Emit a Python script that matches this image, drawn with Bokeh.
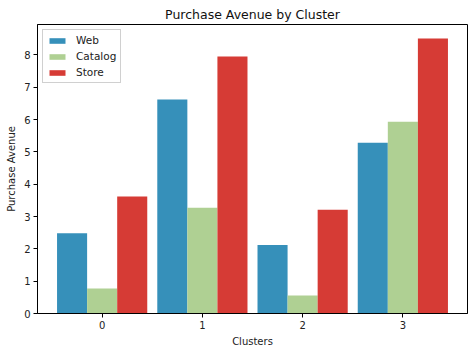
from bokeh.plotting import figure
from bokeh.models import ColumnDataSource, Range1d, FixedTicker, Legend, LegendItem
from bokeh.transform import dodge
from bokeh.embed import file_html
from bokeh.resources import INLINE

clusters = [0, 1, 2, 3]
web = [2.48, 6.62, 2.12, 5.28]
catalog = [0.77, 3.27, 0.56, 5.93]
store = [3.62, 7.95, 3.21, 8.51]
series_names = ["Web", "Catalog", "Store"]
colors = ["#3690BA", "#AFD093", "#D63B35"]

src = ColumnDataSource(dict(cluster=clusters, Web=web, Catalog=catalog, Store=store))

FONT = "DejaVu Sans"
p = figure(width=474, height=353, output_backend="svg", toolbar_location=None,
           x_range=Range1d(-0.645, 3.645), y_range=Range1d(0, 8.94),
           title="Purchase Avenue by Cluster",
           min_border_left=37, min_border_right=7, min_border_top=24, min_border_bottom=40)

renderers = []
offsets = [-0.3, 0.0, 0.3]
for name, col, off in zip(series_names, colors, offsets):
    r = p.vbar(x=dodge("cluster", off), top=name, width=0.3, source=src,
               fill_color=col, line_color=None)
    renderers.append(r)

legend = Legend(items=[LegendItem(label=n, renderers=[r]) for n, r in zip(series_names, renderers)],
                location="top_left")
legend.label_text_font = FONT
legend.label_text_font_size = "10.5px"
legend.label_text_color = "#222222"
legend.border_line_color = "#d0d0d0"
legend.border_line_alpha = 1
legend.background_fill_alpha = 0.9
legend.glyph_width = 20
legend.glyph_height = 7
legend.label_height = 12
legend.spacing = 4
legend.padding = 4
legend.margin = 5
legend.label_standoff = 9
p.add_layout(legend)

p.title.text_font = FONT
p.title.text_font_size = "12.5px"
p.title.text_font_style = "normal"
p.title.align = "center"
p.title.text_color = "#111111"
p.title.standoff = 6

p.xgrid.visible = False
p.ygrid.visible = False
p.outline_line_color = "black"
p.outline_line_width = 1
p.outline_line_alpha = 1

p.xaxis.ticker = FixedTicker(ticks=clusters)
p.yaxis.ticker = FixedTicker(ticks=list(range(0, 9)))
p.xaxis.axis_label = "Clusters"
p.yaxis.axis_label = "Purchase Avenue"
for ax in (p.xaxis, p.yaxis):
    ax.axis_label_text_font = FONT
    ax.axis_label_text_font_size = "10px"
    ax.axis_label_text_font_style = "normal"
    ax.axis_label_text_color = "#222222"
    ax.major_label_text_font = FONT
    ax.major_label_text_font_size = "10px"
    ax.major_label_text_color = "#222222"
    ax.major_tick_in = 0
    ax.major_tick_out = 4
    ax.minor_tick_out = 0
    ax.minor_tick_in = 0
    ax.axis_line_color = "black"
    ax.major_tick_line_color = "black"
    ax.major_label_standoff = 3
    ax.axis_label_standoff = 4

p.background_fill_color = "white"
p.border_fill_color = "white"

open("out.html", "w").write(file_html(p, INLINE))
